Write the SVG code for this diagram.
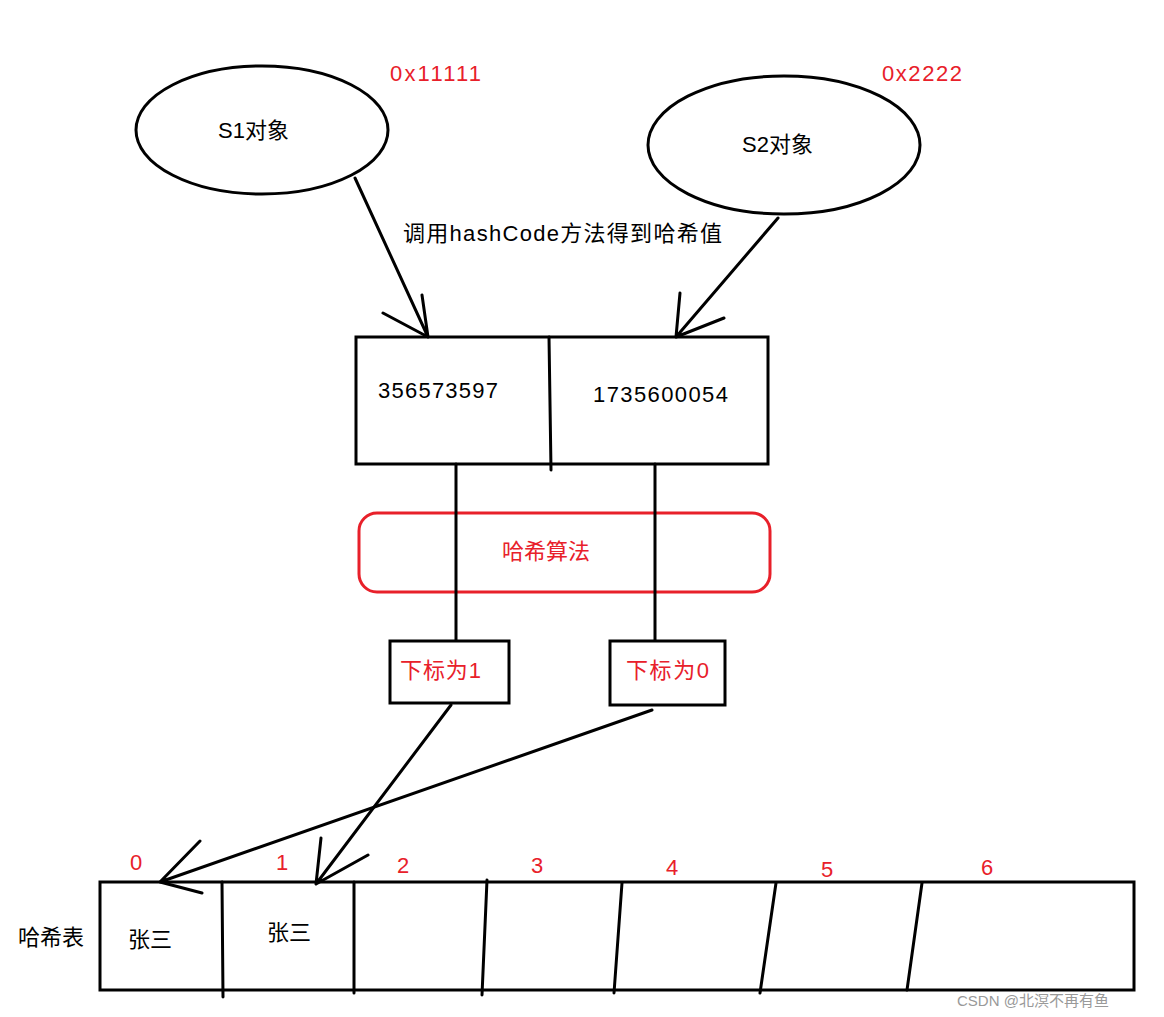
<svg xmlns="http://www.w3.org/2000/svg" width="1164" height="1017" viewBox="0 0 1164 1017">
<style>
.s{fill:none;stroke:#000;stroke-width:3;stroke-linecap:round}
.t{font-family:"Liberation Sans","Noto Sans CJK SC",sans-serif;font-size:22px;fill:#000}
.r{font-family:"Liberation Sans","Noto Sans CJK SC",sans-serif;font-size:22px;fill:#e8202a}
</style>
<rect width="1164" height="1017" fill="#fff"/>
<g id="s1"><ellipse class="s" cx="262" cy="130" rx="126" ry="64"/><text class="t" x="218" y="138">S1对象</text><text class="r" x="390" y="81" textLength="91">0x11111</text></g>
<g id="s2"><ellipse class="s" cx="784" cy="145" rx="136" ry="69"/><text class="t" x="742" y="152">S2对象</text><text class="r" x="882" y="81" textLength="80">0x2222</text></g>
<g id="hash"><rect class="s" x="356" y="337" width="412" height="127"/><path class="s" d="M549 337L551 470"/><text class="t" x="378" y="398" textLength="120">356573597</text><text class="t" x="593" y="402" textLength="135">1735600054</text></g>
<g id="algo"><rect x="359" y="513" width="411" height="79" rx="18" fill="none" stroke="#e8202a" stroke-width="3"/><text class="r" x="502" y="559">哈希算法</text></g>
<g id="idx1"><rect class="s" x="390" y="641" width="119" height="62"/><text class="r" x="400" y="678" textLength="81">下标为1</text></g>
<g id="idx0"><rect class="s" x="610" y="641" width="115" height="64"/><text class="r" x="626" y="678" textLength="83">下标为0</text></g>
<g id="table"><rect class="s" x="100" y="882" width="1034" height="108"/>
<path class="s" d="M222 882L223 997M354 882L354 993M487 880L482 995M622 883L614 993M776 883L760 993M922 883L907 990"/>
<text class="t" x="18" y="945">哈希表</text><text class="t" x="128" y="947">张三</text><text class="t" x="267" y="940">张三</text>
<g class="r"><text x="130" y="870">0</text><text x="276" y="870">1</text><text x="397" y="873">2</text><text x="531" y="873">3</text><text x="666" y="875">4</text><text x="821" y="877">5</text><text x="981" y="875">6</text></g></g>
<g id="connectors">
<path class="s" d="M355 178L428 337M422 295L428 337M383 313L428 337"/>
<path class="s" d="M778 218L676 337M680 293L676 337M724 318L676 337"/>
<path class="s" d="M456 464V640M655 464V640"/>
<path class="s" d="M451 705L316 884M321 838L316 884M368 855L316 884"/>
<path class="s" d="M652 710L160 882M200 841L160 882M202 893L160 882"/>
<text class="t" x="403" y="241" textLength="319">调用hashCode方法得到哈希值</text>
</g>
<text x="957" y="1006" font-family="Liberation Sans,Noto Sans CJK SC,sans-serif" font-size="15" fill="#999">CSDN @北溟不再有鱼</text>
</svg>
